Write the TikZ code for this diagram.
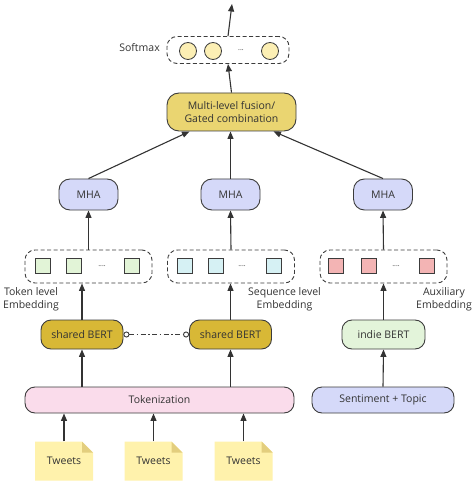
\documentclass[tikz,border=0pt]{standalone}
\usepackage{fontspec}
\setmainfont{Open Sans}
\usetikzlibrary{arrows.meta}

\definecolor{linec}{HTML}{3C3C3C}
\definecolor{txt}{HTML}{333333}
\definecolor{ballc}{HTML}{FCEFB4}
\definecolor{fusec}{HTML}{EAD571}
\definecolor{sharec}{HTML}{D8B836}
\definecolor{indiec}{HTML}{E3F4DA}
\definecolor{mhac}{HTML}{D5D9F9}
\definecolor{tokc}{HTML}{FADCEB}
\definecolor{tweetc}{HTML}{FFF2AC}
\definecolor{foldc}{HTML}{E3CE7E}
\definecolor{greenc}{HTML}{E2F4D7}
\definecolor{cyanc}{HTML}{D6F1F4}
\definecolor{pinkc}{HTML}{F3B4B4}

\begin{document}
\begin{tikzpicture}[x=1pt, y=-1pt, font=\fontsize{10.5}{12.5}\selectfont,
    block/.style={draw=linec, line width=0.9pt, rounded corners=10pt, text=txt, align=center, inner sep=2pt},
    dashbox/.style={draw=linec, dashed, dash pattern=on 4pt off 2.5pt, line width=0.9pt, rounded corners=10pt, minimum width=127pt, minimum height=33pt},
    cell/.style={draw=linec, line width=0.8pt, minimum size=15pt, inner sep=0pt},
    ball/.style={circle, draw=linec, line width=0.8pt, fill=ballc, minimum size=17pt, inner sep=0pt},
    dots/.style={text=txt, font=\scriptsize, inner sep=0pt},
    lbl/.style={text=txt, align=center, inner sep=0pt},
    arr/.style={-{Triangle[length=7.5pt,width=6pt]}, line width=1.1pt, draw=txt},
    tweet/.style={minimum width=58pt, minimum height=39pt, inner sep=0pt, text=txt, fill=white,
        path picture={
            \fill[tweetc] (path picture bounding box.south west) -- (path picture bounding box.north west)
                -- ([xshift=-11pt]path picture bounding box.north east) -- ([yshift=-11pt]path picture bounding box.north east)
                -- (path picture bounding box.south east) -- cycle;
            \fill[foldc] ([xshift=-11pt]path picture bounding box.north east) -- ([xshift=-11pt,yshift=-11pt]path picture bounding box.north east)
                -- ([yshift=-11pt]path picture bounding box.north east) -- cycle;
        }}]
    \useasboundingbox (0,0) rectangle (474,486);

    % softmax output
    \coordinate (out) at (232,4);
    \node (sm) at (228,50) [dashbox, minimum width=122pt, minimum height=27pt] {};
    \node (s1) at (188,51) [ball] {};
    \node (s2) at (213,51) [ball] {};
    \node (s3) at (270,51) [ball] {};
    \node (sdots) at (241,50) [dots] {...};
    \node (smlbl) at (160,48) [lbl, anchor=east] {Softmax};

    \node (fuse) at (231.5,112) [block, fill=fusec, minimum width=129pt, minimum height=38pt, rounded corners=12pt] {Multi-level fusion/\\Gated combination};

    \node (mha1) at (88.5,194.5) [block, fill=mhac, minimum width=59pt, minimum height=31pt, rounded corners=11pt] {MHA};
    \node (mha2) at (230.5,194.5) [block, fill=mhac, minimum width=59pt, minimum height=31pt, rounded corners=11pt] {MHA};
    \node (mha3) at (383,194.5) [block, fill=mhac, minimum width=59pt, minimum height=31pt, rounded corners=11pt] {MHA};

    % embeddings
    \node (emb1) at (88.5,266.5) [dashbox] {};
    \node (t1) at (43,266) [cell, fill=greenc] {};
    \node (t2) at (74,266) [cell, fill=greenc] {};
    \node (t3) at (132,266) [cell, fill=greenc] {};
    \node (tdots) at (102,266) [dots] {....};

    \node (emb2) at (231,266.5) [dashbox] {};
    \node (q1) at (184.5,266) [cell, fill=cyanc] {};
    \node (q2) at (215.5,266) [cell, fill=cyanc] {};
    \node (q3) at (274,266) [cell, fill=cyanc] {};
    \node (qdots) at (242,266) [dots] {....};

    \node (emb3) at (383.5,266.5) [dashbox] {};
    \node (a1) at (335.5,266) [cell, fill=pinkc] {};
    \node (a2) at (368.5,266) [cell, fill=pinkc] {};
    \node (a3) at (426.5,266) [cell, fill=pinkc] {};
    \node (adots) at (396,266) [dots] {....};

    \node (tlbl) at (31,299.5) [lbl] {Token level\\Embedding};
    \node (qlbl) at (284.5,299.5) [lbl] {Sequence level\\Embedding};
    \node (albl) at (444,299.5) [lbl] {Auxiliary\\Embedding};

    % encoders
    \node (bert1) at (82,334.5) [block, fill=sharec, minimum width=82pt, minimum height=29pt] {shared BERT};
    \node (bert2) at (230.5,334.5) [block, fill=sharec, minimum width=82pt, minimum height=29pt] {shared BERT};
    \node (bert3) at (383.5,334.5) [block, fill=indiec, minimum width=83pt, minimum height=29pt] {indie BERT};

    \node (tok) at (159.5,400) [block, fill=tokc, minimum width=269pt, minimum height=26pt] {Tokenization};
    \node (sent) at (383,400) [block, fill=mhac, minimum width=142pt, minimum height=26pt] {Sentiment + Topic};

    \node (tw1) at (64,461) [tweet] {Tweets};
    \node (tw2) at (153.5,461) [tweet] {Tweets};
    \node (tw3) at (243.5,461) [tweet] {Tweets};

    \draw [arr] (sm.north) -- (out);
    \draw [arr] (fuse.north) -- (sm.south);
    \draw [arr] (mha1.north) -- ([xshift=-42pt]fuse.south);
    \draw [arr] (mha2.north) -- (mha2.north |- fuse.south);
    \draw [arr] (mha3.north) -- ([xshift=42pt]fuse.south);
    \draw [arr] (emb1.north) -- (mha1.south);
    \draw [arr] (emb2.north) -- (mha2.south);
    \draw [arr] (emb3.north) -- (mha3.south);
    \draw [arr] (bert1.north) -- (bert1.north |- emb1.south);
    \draw [arr] (bert2.north) -- (bert2.north |- emb2.south);
    \draw [arr] (bert3.north) -- (emb3.south);
    \draw [arr] (bert1.south |- tok.north) -- (bert1.south);
    \draw [arr] (bert2.south |- tok.north) -- (bert2.south);
    \draw [arr] (sent.north) -- (bert3.south);
    \draw [arr] (tw1.north) -- (tw1.north |- tok.south);
    \draw [arr] (tw2.north) -- (tw2.north |- tok.south);
    \draw [arr] (tw3.north) -- (tw3.north |- tok.south);
    \draw [{Circle[open,length=6pt]}-{Circle[open,length=6pt]}, draw=linec, line width=0.9pt, dash pattern=on 5pt off 2.5pt on 1.5pt off 2.5pt] (bert1.east) -- (bert2.west);
\end{tikzpicture}
\end{document}
